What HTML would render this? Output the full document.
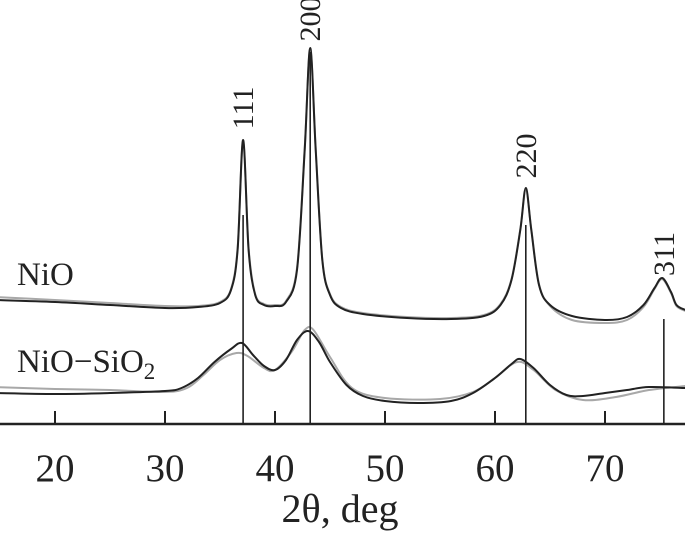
<!DOCTYPE html>
<html><head><meta charset="utf-8">
<style>
html,body{margin:0;padding:0;background:#fff;}
svg{display:block;font-family:"Liberation Serif",serif;}
</style></head>
<body>
<svg id="chart" width="685" height="535" viewBox="0 0 685 535" xmlns="http://www.w3.org/2000/svg"></svg>
<script>
const xTicks=[20,30,40,50,60,70];
const niODeg=[14.5,20,25,30,33,35,36,36.6,37.1,37.6,38.2,39,40,41,42,42.7,43.2,43.7,44.3,45,46,48,52,56,59,60.5,61.5,62.3,62.8,63.3,64,65,67,70,72,73.5,74.5,75.2,76,76.5,77.3];
const niOI=[124,122,119,116,117,121,134,174,284,174,129,119,118,122,154,274,376,274,164,129,116,110,106,105,108,119,144,194,236,194,139,119,108,104,107,119,136,146,132,119,114];
const niOFitDeg=[14.5,20,25,30,33,35,36,36.6,37.1,37.6,38.2,39,40,41,42,42.7,43.2,43.7,44.3,45,46,48,52,56,59,60.5,61.5,62.3,62.8,63.3,64,65,67,70,72,73.5,74.5,75.2,76,76.5,77.3];
const niOFitI=[127,124,121,118,118,122,135,176,282,176,130,120,119,123,156,276,374,276,165,130,117,111,107,106,109,120,145,195,234,195,140,118,104,101,104,117,135,145,131,118,113];
const nsDeg=[14.5,20,25,30,31.5,33,34.5,36,37,38,39,40,41,42,43,44,45,46.5,48,50,53,56,58,60,61.5,62.3,63.5,65,66.5,68,70,72,74,77.3];
const nsI=[31,30,31,33,36,46,62,75,81,69,58,54,64,84,93,82,62,39,28,23,21,23,31,46,60,65,56,39,29,28,31,34,37,36];
const nsFitDeg=[14.5,20,25,30,32,33.5,35,36.5,37.5,39,40,41.5,42.7,43.5,45,47,50,55,58,60,62,63.5,65.5,68,71,74,77.3];
const nsFitI=[37,35,34,32,36,49,64,71,68,56,54,72,94,94,67,36,26,25,32,46,62,54,34,24,27,34,38];
const stickDeg=[37.1,43.2,62.8,75.35];
const stickI=[209,372,199,105];
const stickLabels=["111","200","220","311"];
const labelI=[316,405,268,170];

const NS="http://www.w3.org/2000/svg";
const svg=document.getElementById('chart');
const X=d=>55+(d-20)*11;
const Y=i=>424-i;
function mk(t,a){const e=document.createElementNS(NS,t);for(const k in a)e.setAttribute(k,a[k]);svg.appendChild(e);return e;}
function smooth(xs,ys){
  const p=xs.map((d,i)=>[X(d),Y(ys[i])]);
  let s=`M${p[0][0]},${p[0][1]}`;
  for(let i=0;i<p.length-1;i++){
    const p0=p[Math.max(0,i-1)],p1=p[i],p2=p[i+1],p3=p[Math.min(p.length-1,i+2)];
    const c1=[p1[0]+(p2[0]-p0[0])/6,p1[1]+(p2[1]-p0[1])/6];
    const c2=[p2[0]-(p3[0]-p1[0])/6,p2[1]-(p3[1]-p1[1])/6];
    s+=`C${c1[0]},${c1[1]} ${c2[0]},${c2[1]} ${p2[0]},${p2[1]}`;
  }
  return s;
}
let e=mk('path',{d:smooth(niOFitDeg,niOFitI),fill:'none',stroke:'#a8a8a8','stroke-width':2});

e=mk('path',{d:smooth(nsFitDeg,nsFitI),fill:'none',stroke:'#a8a8a8','stroke-width':2});

e=mk('path',{d:smooth(niODeg,niOI),fill:'none',stroke:'#222','stroke-width':2});

e=mk('path',{d:smooth(nsDeg,nsI),fill:'none',stroke:'#222','stroke-width':2});

stickDeg.forEach((d,i)=>{
  const l=mk('line',{x1:X(d),x2:X(d),y1:Y(0),y2:Y(stickI[i]),stroke:'#222','stroke-width':1.6});
  
  
  const t=mk('text',{x:0,y:0,'font-size':30,fill:'#222','text-anchor':'middle',transform:`translate(${X(d)+10},${Y(labelI[i])}) rotate(-90)`});
  t.textContent=stickLabels[i];
  
  
});
e=mk('line',{x1:0,x2:685,y1:424,y2:424,stroke:'#222','stroke-width':2.5});

xTicks.forEach(v=>{
  const t=mk('line',{x1:X(v),x2:X(v),y1:411,y2:424,stroke:'#222','stroke-width':2});
  
  
  const l=mk('text',{x:X(v),y:481,'font-size':39,fill:'#222','text-anchor':'middle'});
  l.textContent=v;
  
  
});
e=mk('text',{x:340,y:522,'font-size':40,fill:'#222','text-anchor':'middle'});
e.textContent='2θ, deg';

e=mk('text',{x:17,y:285,'font-size':33,fill:'#222'});
e.textContent='NiO';

e=mk('text',{x:17,y:372,'font-size':33,fill:'#222'});
e.innerHTML='NiO−SiO<tspan font-size="23" dy="7">2</tspan>';

</script>
</body></html>
